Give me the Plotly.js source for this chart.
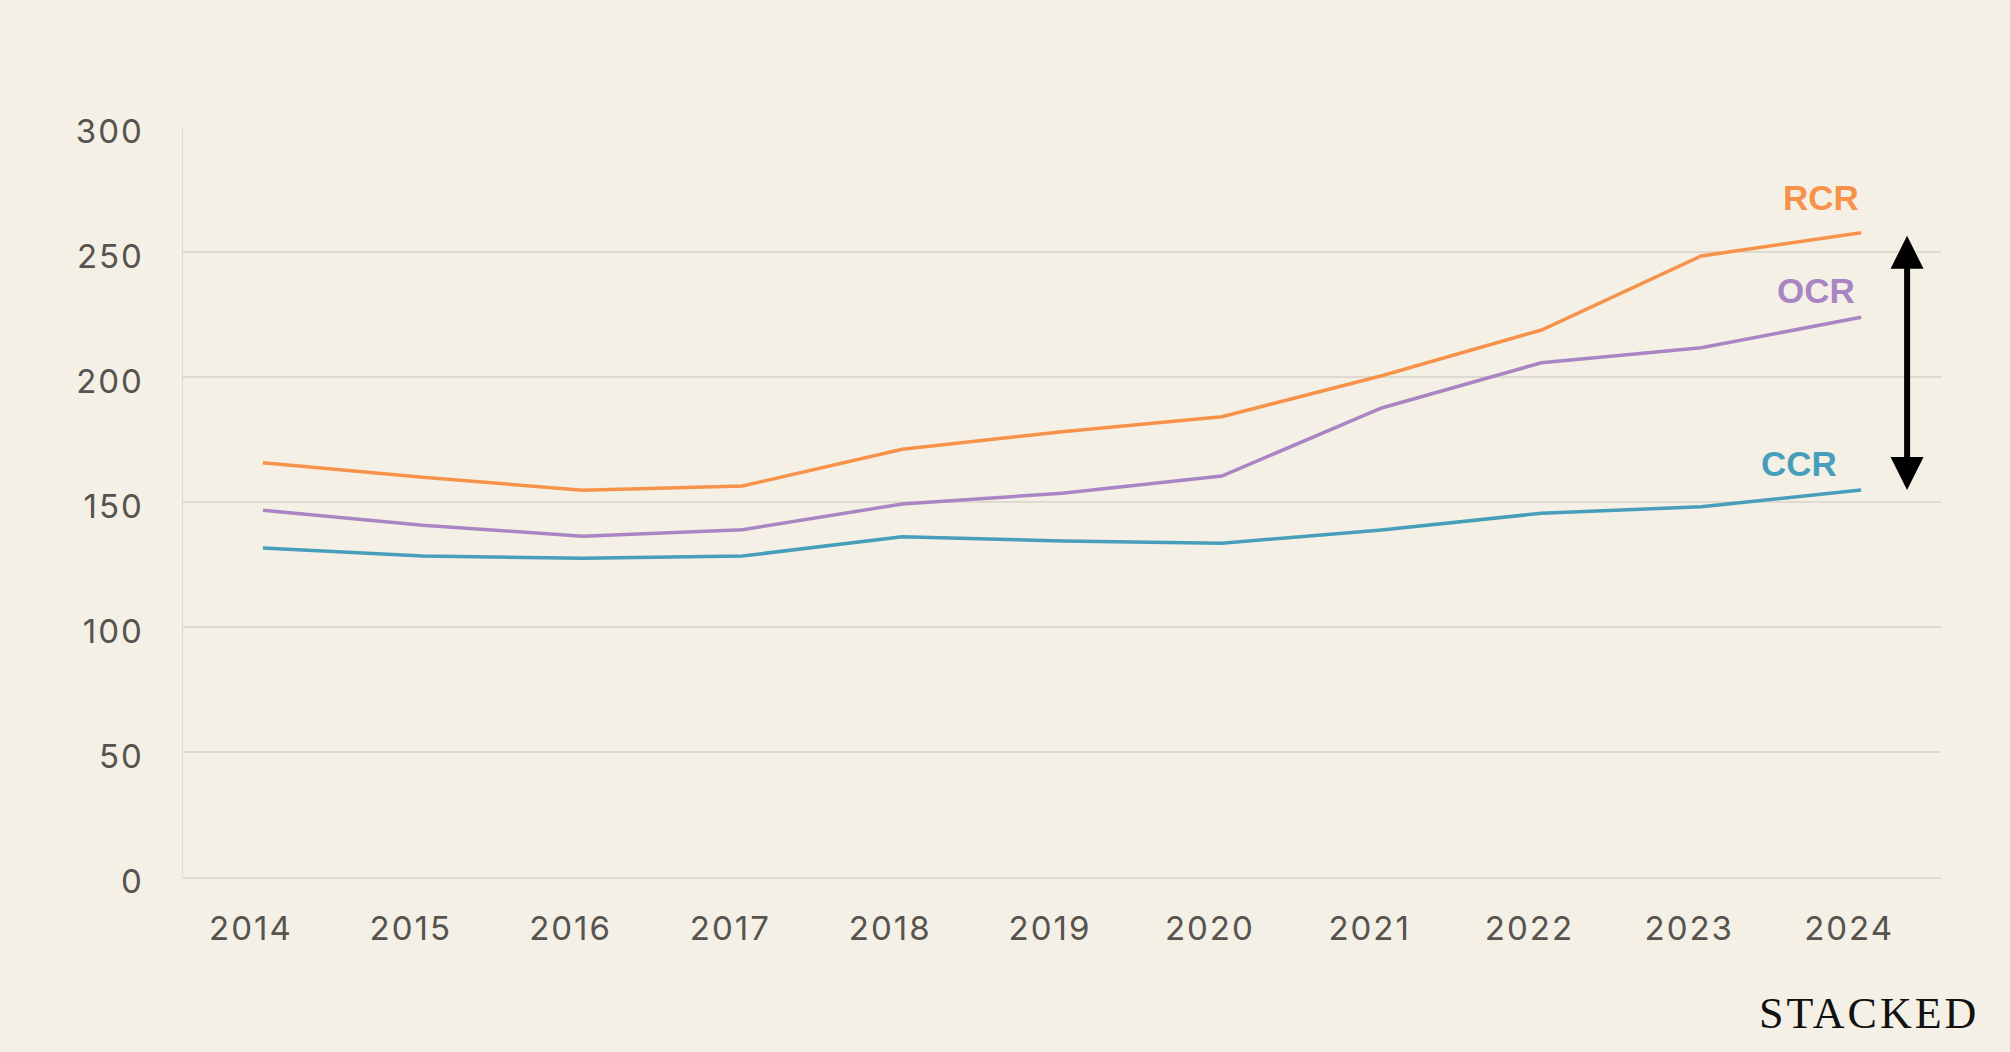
<!DOCTYPE html>
<html>
<head>
<meta charset="utf-8">
<script src="https://cdn.plot.ly/plotly-3.0.1.min.js"></script>
<style>
  html, body { margin: 0; padding: 0; background: #F4F0E5; }
  #chart { width: 2010px; height: 1052px; }
  #chart .xtick text, #chart .ytick text { letter-spacing: 2px; }
</style>
</head>
<body>
<div id="chart"></div>
<script>
// Price index by market segment, 2014-2024
const years = [2014, 2015, 2016, 2017, 2018, 2019, 2020, 2021, 2022, 2023, 2024];
const rcr = [165.7, 159.9, 154.7, 156.4, 171.1, 178.1, 184.1, 200.5, 218.8, 248.4, 257.7];
const ocr = [146.7, 140.7, 136.3, 138.9, 149.2, 153.5, 160.4, 187.6, 205.7, 211.7, 223.9];
const ccr = [131.6, 128.4, 127.5, 128.4, 136.1, 134.4, 133.5, 138.8, 145.5, 148.1, 154.8];
const yTicks = [0, 50, 100, 150, 200, 250, 300];

const COLORS = { RCR: '#F7924A', OCR: '#A985C3', CCR: '#469EBB' };
const BG = '#F4F0E5';
const GRID = '#DEDAD0';
const TICK = '#57534E';

const series = [
  { name: 'RCR', y: rcr },
  { name: 'OCR', y: ocr },
  { name: 'CCR', y: ccr }
];

const traces = series.map(s => ({
  x: years,
  y: s.y,
  name: s.name,
  type: 'scatter',
  mode: 'lines',
  line: { color: COLORS[s.name], width: 3.5 },
  hoverinfo: 'skip'
}));

const last = arr => arr[arr.length - 1];
const lastYear = last(years);

// End-of-line labels
const labelOffsets = { RCR: { dx: 0, dy: 35 }, OCR: { dx: -4, dy: 27 }, CCR: { dx: -22, dy: 27 } };
const annotations = series.map(s => ({
  x: lastYear, y: last(s.y), xref: 'x', yref: 'y',
  text: '<b>' + s.name + '</b>',
  showarrow: false,
  xanchor: 'right', yanchor: 'middle',
  xshift: labelOffsets[s.name].dx, yshift: labelOffsets[s.name].dy,
  font: { family: 'Liberation Sans, Arial, sans-serif', size: 35, color: COLORS[s.name] }
}));

// Arrow shaft spanning the RCR-CCR gap at the final year
const ARROW_DX = 46;   // px to the right of the last data point
const HEAD = 33;       // arrowhead length / width in px
annotations.push({
  x: lastYear, y: last(ccr), xref: 'x', yref: 'y',
  ax: lastYear, ay: last(rcr), axref: 'x', ayref: 'y',
  xshift: ARROW_DX,
  showarrow: true, arrowhead: 0, arrowwidth: 6, arrowcolor: '#000000',
  standoff: HEAD - 4, startstandoff: HEAD - 4,
  text: ''
});

// Logo
annotations.push({
  x: 1, y: 0, xref: 'paper', yref: 'paper',
  text: '<span style="letter-spacing:3px">STACKED</span>',
  showarrow: false,
  xanchor: 'right', yanchor: 'middle',
  xshift: 40, yshift: -136,
  font: { family: 'Liberation Serif, DejaVu Serif, serif', size: 44, color: '#111111' }
});

const h = HEAD / 2;
const shapes = [
  { // upper arrowhead
    type: 'path', xref: 'x', yref: 'y',
    xsizemode: 'pixel', xanchor: lastYear,
    ysizemode: 'pixel', yanchor: last(rcr),
    path: `M ${ARROW_DX} -3 L ${ARROW_DX - h} ${-3 - HEAD} L ${ARROW_DX + h} ${-3 - HEAD} Z`,
    fillcolor: '#000000', line: { width: 0 }
  },
  { // lower arrowhead
    type: 'path', xref: 'x', yref: 'y',
    xsizemode: 'pixel', xanchor: lastYear,
    ysizemode: 'pixel', yanchor: last(ccr),
    path: `M ${ARROW_DX} 0 L ${ARROW_DX - h} ${HEAD} L ${ARROW_DX + h} ${HEAD} Z`,
    fillcolor: '#000000', line: { width: 0 }
  }
];

const layout = {
  width: 2010, height: 1052,
  paper_bgcolor: BG, plot_bgcolor: BG,
  margin: { l: 183, r: 69, t: 127, b: 175 },
  showlegend: false,
  font: { family: 'Inter, sans-serif', color: TICK },
  xaxis: {
    range: [2013.5, 2024.5],
    tickmode: 'array', tickvals: years, ticktext: years.map(String),
    showgrid: false, zeroline: false,
    showline: true, linecolor: GRID, linewidth: 1.5,
    ticks: '', ticklabelstandoff: 22, ticklabelshift: -12,
    tickfont: { family: 'Inter, sans-serif', size: 33, color: TICK },
    fixedrange: true
  },
  yaxis: {
    range: [0, 300],
    tickmode: 'array', tickvals: yTicks, ticktext: yTicks.map(String),
    showgrid: true, gridcolor: GRID, gridwidth: 1.2,
    zeroline: false,
    showline: true, linecolor: GRID, linewidth: 1.5,
    ticks: '', ticklabelstandoff: 31, ticklabelshift: 4,
    tickfont: { family: 'Inter, sans-serif', size: 33, color: TICK },
    fixedrange: true
  },
  annotations: annotations,
  shapes: shapes
};

Plotly.newPlot('chart', traces, layout, { displayModeBar: false, staticPlot: true });
</script>
</body>
</html>
